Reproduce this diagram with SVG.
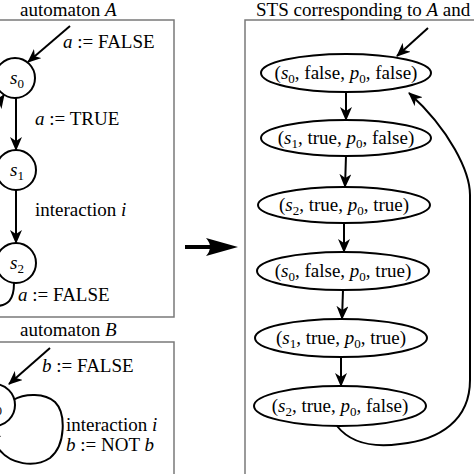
<svg xmlns="http://www.w3.org/2000/svg" width="474" height="474" viewBox="0 0 474 474">
<style>
text{font-family:"Liberation Serif","Times New Roman",serif;font-size:19px;fill:#000}
.it{font-style:italic}
.sub{font-size:13px}
.box{fill:none;stroke:#7a7a7a;stroke-width:1.5}
.st{fill:#fff;stroke:#000;stroke-width:2}
.e{fill:none;stroke:#000;stroke-width:2;marker-end:url(#ah)}
</style>
<defs>
<marker id="ah" markerUnits="userSpaceOnUse" markerWidth="14" markerHeight="12" viewBox="0 0 14 12" refX="13" refY="6" orient="auto">
<path d="M0 0 L14 6 L0 12 L4 6 Z" fill="#000"/>
</marker>
</defs>
<g id="frames">
<path class="box" d="M-2 20 H174 V317 H-2"/>
<path class="box" d="M-2 342 H174 V476"/>
<path class="box" d="M476 20 H245 V476"/>
<text x="20" y="16">automaton <tspan class="it">A</tspan></text>
<text x="20" y="336">automaton <tspan class="it">B</tspan></text>
<text x="256" y="16">STS corresponding to <tspan class="it">A</tspan> and</text>
</g>
<g id="connectors">
<path class="e" d="M70 26 L28 62"/>
<path class="e" d="M16 98 L16 150"/>
<path class="e" d="M16 190 L16 243"/>
<path class="e" d="M14 283 C14 300 8 306 -5 306 C-25 306 -25 130 -10 115 L4 95"/>
<path class="e" d="M50 348 L9 384"/>
<path class="e" d="M13 400 C25 393 45 393 55 402 C66 413 66 445 50 458 C35 468 10 465 -2 448 L-8 426"/>
<path class="e" d="M428 28 L397 56"/>
<path class="e" d="M346 92 L346 120"/>
<path class="e" d="M346 156 L345 187"/>
<path class="e" d="M344 223 L344 252"/>
<path class="e" d="M343 290 L342 319"/>
<path class="e" d="M341 357 L341 386"/>
<path class="e" d="M337 426 C352 445 378 447 400 444 C440 440 470 420 470 380 L470 195 C470 172 450 130 409 93"/>
<g id="bigarrow">
<path d="M185 247 H216" stroke="#000" stroke-width="4"/>
<path d="M238 247 L206 238 Q214 247 206 256 Z" fill="#000"/>
</g>
</g>
<g id="labels-A">
<text x="63" y="48"><tspan class="it">a</tspan> := FALSE</text>
<text x="35" y="125"><tspan class="it">a</tspan> := TRUE</text>
<text x="35" y="216">interaction <tspan class="it">i</tspan></text>
<text x="18" y="301"><tspan class="it">a</tspan> := FALSE</text>
</g>
<g id="labels-B">
<text x="42" y="372"><tspan class="it">b</tspan> := FALSE</text>
<text x="66" y="431">interaction <tspan class="it">i</tspan></text>
<text x="66" y="451"><tspan class="it">b</tspan> := NOT <tspan class="it">b</tspan></text>
</g>
<g id="A-s0"><circle class="st" cx="15" cy="78" r="20"/><text x="17" y="84" text-anchor="middle"><tspan class="it">s</tspan><tspan class="sub" dy="4">0</tspan></text></g>
<g id="A-s1"><circle class="st" cx="16" cy="170" r="20"/><text x="17" y="176" text-anchor="middle"><tspan class="it">s</tspan><tspan class="sub" dy="4">1</tspan></text></g>
<g id="A-s2"><circle class="st" cx="16" cy="263" r="20"/><text x="17" y="269" text-anchor="middle"><tspan class="it">s</tspan><tspan class="sub" dy="4">2</tspan></text></g>
<g id="B-p0"><circle class="st" cx="-6" cy="405" r="21"/><text x="-6" y="411" text-anchor="middle"><tspan class="it">p</tspan><tspan class="sub" dy="4">0</tspan></text></g>
<g id="sts1"><ellipse class="st" cx="346" cy="73" rx="85" ry="19"/><text x="346" y="79" text-anchor="middle">(<tspan class="it">s</tspan><tspan class="sub" dy="4">0</tspan><tspan dy="-4">, false, </tspan><tspan class="it">p</tspan><tspan class="sub" dy="4">0</tspan><tspan dy="-4">, false)</tspan></text></g>
<g id="sts2"><ellipse class="st" cx="346" cy="138" rx="85" ry="18"/><text x="346" y="144" text-anchor="middle">(<tspan class="it">s</tspan><tspan class="sub" dy="4">1</tspan><tspan dy="-4">, true, </tspan><tspan class="it">p</tspan><tspan class="sub" dy="4">0</tspan><tspan dy="-4">, false)</tspan></text></g>
<g id="sts3"><ellipse class="st" cx="344" cy="205" rx="86" ry="18"/><text x="344" y="211" text-anchor="middle">(<tspan class="it">s</tspan><tspan class="sub" dy="4">2</tspan><tspan dy="-4">, true, </tspan><tspan class="it">p</tspan><tspan class="sub" dy="4">0</tspan><tspan dy="-4">, true)</tspan></text></g>
<g id="sts4"><ellipse class="st" cx="343" cy="271" rx="86" ry="19"/><text x="343" y="277" text-anchor="middle">(<tspan class="it">s</tspan><tspan class="sub" dy="4">0</tspan><tspan dy="-4">, false, </tspan><tspan class="it">p</tspan><tspan class="sub" dy="4">0</tspan><tspan dy="-4">, true)</tspan></text></g>
<g id="sts5"><ellipse class="st" cx="341" cy="338" rx="86" ry="19"/><text x="341" y="344" text-anchor="middle">(<tspan class="it">s</tspan><tspan class="sub" dy="4">1</tspan><tspan dy="-4">, true, </tspan><tspan class="it">p</tspan><tspan class="sub" dy="4">0</tspan><tspan dy="-4">, true)</tspan></text></g>
<g id="sts6"><ellipse class="st" cx="340" cy="406" rx="86" ry="20"/><text x="340" y="412" text-anchor="middle">(<tspan class="it">s</tspan><tspan class="sub" dy="4">2</tspan><tspan dy="-4">, true, </tspan><tspan class="it">p</tspan><tspan class="sub" dy="4">0</tspan><tspan dy="-4">, false)</tspan></text></g>
</svg>
